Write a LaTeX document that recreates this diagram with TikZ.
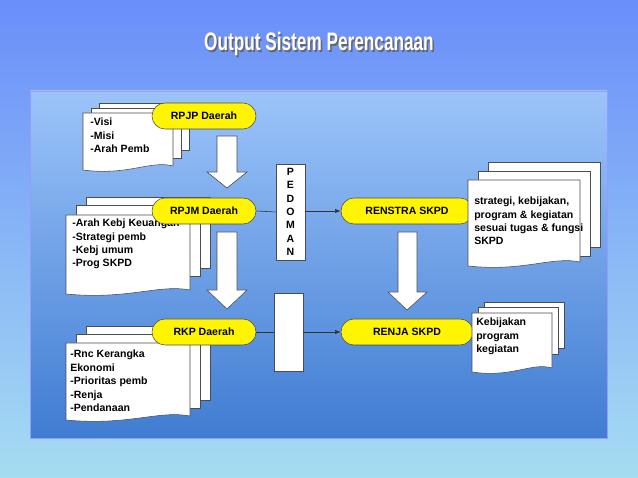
\documentclass[tikz,border=0pt]{standalone}
\usepackage{fontspec}
\setmainfont{Liberation Sans}
\usetikzlibrary{shapes.geometric,shapes.arrows,arrows.meta}
\definecolor{skytop}{RGB}{106,142,250}
\definecolor{skybot}{RGB}{166,220,242}
\definecolor{paneltop}{RGB}{156,196,250}
\definecolor{panelbot}{RGB}{64,124,210}
\definecolor{pilltone}{RGB}{255,245,0}
\newlength{\unit}\setlength{\unit}{0.025cm}
\tikzset{
  pill/.style={draw=black!70, fill=pilltone, rounded corners=13\unit, minimum width=104\unit, minimum height=26\unit, font=\bfseries\fontsize{7.5}{9}\selectfont},
  sheet/.style={draw=black!70, fill=white},
  txt/.style={font=\bfseries\fontsize{7.5}{9.5}\selectfont, align=left, anchor=north west, inner sep=0pt},
  bigarrow/.style={draw=black!70, fill=white}
}
% one paper sheet with wavy bottom: x0,y0 top left, x1,y1 bottom right (pixels, y down)
\newcommand{\wavesheet}[4]{%
  \draw[sheet] (#1,#2) -- (#3,#2) -- (#3,#4)
    .. controls ({#3-0.25*(#3-#1)},{#4-6}) and ({#1+0.5*(#3-#1)},{#4+10}) .. (#1,#4+4) -- cycle;}
\newcommand{\flatsheet}[4]{\draw[sheet] (#1,#2) rectangle (#3,#4);}
\begin{document}
\begin{tikzpicture}[x=\unit, y=-\unit]
\useasboundingbox (0,0) rectangle (638,478);
\shade[top color=skytop, bottom color=skybot] (0,0) rectangle (638,478);
\shade[top color=paneltop, bottom color=panelbot, draw=white!60!blue] (30,91) rectangle (607,438);
% title
\node[text=black!60, font=\bfseries\fontsize{18}{20}\selectfont, xscale=0.68] at (320.5,45.5) {Output Sistem Perencanaan};
\node (title) [text=white, font=\bfseries\fontsize{18}{20}\selectfont, xscale=0.68] at (319,44) {Output Sistem Perencanaan};

% RPJP stack
\flatsheet{99}{103}{189}{150}
\flatsheet{91}{108}{181}{158}
\wavesheet{83}{113}{173}{166}
\node[txt] at (90,118) {-Visi\\-Misi\\-Arah Pemb};
\node (rpjp) [pill] at (204,116) {RPJP Daerah};

% RPJM stack
\flatsheet{86}{197}{210}{268}
\flatsheet{76}{205}{200}{276}
\wavesheet{66}{215}{190}{290}
\node[txt] at (72,219) {-Arah Kebj Keuangan\\-Strategi pemb\\-Kebj umum\\-Prog SKPD};
\node (rpjm) [pill] at (204,211) {RPJM Daerah};

% RKP stack
\flatsheet{86}{326}{210}{400}
\flatsheet{76}{334}{200}{408}
\wavesheet{66}{343}{190}{416}
\node[txt] at (70,350) {-Rnc Kerangka\\Ekonomi\\-Prioritas pemb\\-Renja\\-Pendanaan};
\node (rkp) [pill] at (204,332) {RKP Daerah};

% big arrows
\draw[bigarrow] (217,136) -- (237,136) -- (237,172) -- (247,172) -- (227,188) -- (207,172) -- (217,172) -- cycle;
\draw[bigarrow] (217,232) -- (237,232) -- (237,290) -- (247,290) -- (227,309) -- (207,290) -- (217,290) -- cycle;
\draw[bigarrow] (398,232) -- (417,232) -- (417,292) -- (427,292) -- (407,310) -- (388,292) -- (398,292) -- cycle;

% guide boxes
\node (pedoman) [draw=black!70, fill=white, minimum width=29\unit, minimum height=96\unit, align=center, inner sep=0pt, font=\bfseries\fontsize{7.5}{9.5}\selectfont] at (290.5,212) {P\\E\\D\\O\\M\\A\\N};
\node (blank) [draw=black!70, fill=white, minimum width=29\unit, minimum height=78\unit] at (288.5,332) {};

% SKPD side
\node (renstra) [pill, minimum width=132\unit] at (407,211) {RENSTRA SKPD};
\node (renja) [pill, minimum width=132\unit] at (407,332) {RENJA SKPD};

\flatsheet{488}{162}{600}{247}
\flatsheet{478}{171}{590}{256}
\wavesheet{468}{180}{580}{262}
\node[txt] at (474,197) {strategi, kebijakan,\\program \& kegiatan\\sesuai tugas \& fungsi\\SKPD};

\flatsheet{484}{302}{564}{348}
\flatsheet{478}{307}{558}{354}
\wavesheet{472}{313}{552}{368}
\node[txt] at (476,318) {Kebijakan\\program\\kegiatan};

% connectors
\draw[black!80] (rpjm.east) -- (pedoman.west);
\draw[black!80, -{Latex[length=4pt]}] (pedoman.east |- rpjm) -- (renstra.west);
\draw[black!80] (rkp.east) -- (blank.west);
\draw[black!80, -{Latex[length=4pt]}] (blank.east |- rkp) -- (renja.west);
\end{tikzpicture}
\end{document}
